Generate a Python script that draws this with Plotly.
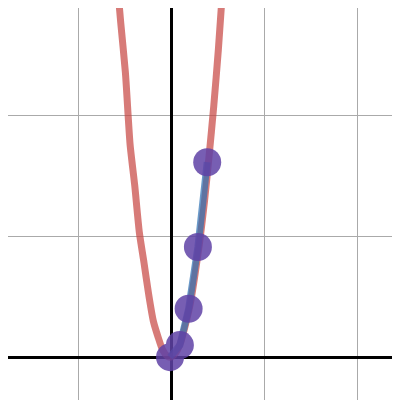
import plotly.graph_objects as go

# curve samples
curve_x = [-0.6, -0.55, -0.5, -0.45, -0.4, -0.35, -0.3, -0.25, -0.2, -0.15, -0.1, -0.05, -0.02,
           0.02, 0.06, 0.1, 0.15, 0.2, 0.25, 0.3, 0.35, 0.4, 0.45, 0.5, 0.56]
curve_y = [3.2, 2.76, 2.35, 1.76, 1.42, 1.03, 0.78, 0.52, 0.30, 0.17, 0.06, 0.008, 0.0,
           0.015, 0.06, 0.135, 0.28, 0.45, 0.69, 0.96, 1.28, 1.66, 2.07, 2.54, 3.2]

# points
pt_x = [-0.02, 0.086, 0.18, 0.28, 0.38]
pt_y = [0.0, 0.1, 0.4, 0.91, 1.61]

fig = go.Figure()
fig.add_trace(go.Scatter(x=curve_x, y=curve_y, mode="lines", line_shape="spline",
                         line=dict(color="#c74440", width=7, smoothing=0.6), opacity=0.7))
fig.add_trace(go.Scatter(x=pt_x, y=pt_y, mode="lines",
                         line=dict(color="#2d70b3", width=7), opacity=0.7))
fig.add_trace(go.Scatter(x=pt_x, y=pt_y, mode="markers",
                         marker=dict(color="#6042a6", size=28), opacity=0.85))

axis = dict(showticklabels=False, ticks="", gridcolor="#aaaaaa", gridwidth=1,
            zeroline=True, zerolinecolor="black", zerolinewidth=3, dtick=1,
            showline=False)
fig.update_layout(
    width=400, height=400, margin=dict(l=0, r=0, t=0, b=0),
    plot_bgcolor="white", paper_bgcolor="white", showlegend=False,
    xaxis=dict(range=[-1.763, 2.54], **axis),
    yaxis=dict(range=[-0.42, 2.884], **axis),
)
fig.write_html("out.html")
